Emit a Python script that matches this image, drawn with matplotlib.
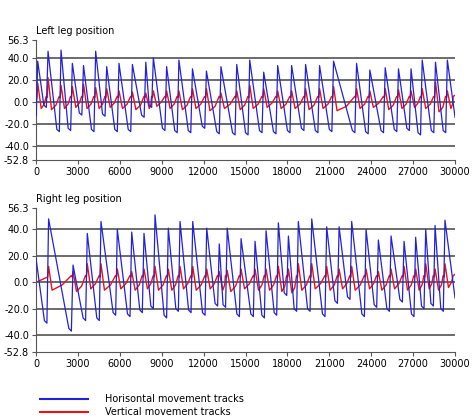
import matplotlib
matplotlib.use("Agg")
import matplotlib.pyplot as plt
import numpy as np

# ---- data ----
L_peak_t = [120, 860, 1790, 2600, 3400, 4270, 5060, 5940, 6900, 7860, 8400, 9350, 10230, 11200,
            12200, 13240, 14370, 15300, 16300, 17300, 18300, 19300, 20300, 21300, 22950, 23900,
            25000, 25950, 26850, 27650, 28600, 29450]
L_peak_v = [37, 46, 47, 35, 33, 46, 32, 35, 34, 36, 40, 32, 38, 30, 28, 32, 34, 38, 27, 33, 33,
            34, 33, 37, 35, 29, 31, 30, 30, 38, 36, 38]
L_trough_v = [-12, -5, -27, -26, -12, -27, -13, -27, -27, -14, -5, -26, -28, -28, -24, -29, -30,
              -30, -28, -29, -28, -26, -28, -27, -28, -29, -28, -27, -26, -30, -28, -28]
L_end_v = -14
L_red_spike = [17, 22, 15, 14, 16, 13, 12, 10, 9, 8, 10, 10, 10, 12, 12, 8, 10, 15, 12, 10, 10,
               12, 12, 14, 12, 10, 12, 11, 10, 12, 18, 10]
L_red_low = [-6, -7, -6, -5, -6, -6, -5, -6, -7, -6, -4, -6, -7, -6, -8, -6, -7, -6, -5, -6, -6,
             -7, -6, -8, -6, -5, -7, -6, -5, -6, -9, -6]

R_start_v = 18
R_peak_t = [900, 2650, 3670, 4650, 5820, 6850, 7730, 8520, 9470, 10310, 11220, 12220, 13120, 13690,
            14680, 15680, 16470, 17350, 18070, 18780, 19740, 20810, 21700, 22600, 23630, 24510,
            25420, 26350, 27180, 27900, 28570, 29280]
R_peak_v = [48, 13, 37, 46, 40, 38, 37, 51, 41, 46, 46, 41, 29, 41, 33, 31, 39, 45, 35, 46, 48,
            42, 42, 46, 40, 32, 35, 31, 34, 40, 43, 47]
R_trough_v = [-31, -37, -29, -29, -25, -26, -23, -20, -27, -22, -23, -25, -18, -19, -26, -26, -27,
              -25, -10, -22, -22, -26, -16, -13, -26, -19, -22, -15, -26, -20, -18, -22]
R_end_v = -12
R_red_spike = [12, 8, 14, 14, 10, 8, 10, 12, 10, 12, 12, 10, 8, 9, 10, 10, 10, 12, 10, 14, 14,
               12, 10, 12, 10, 8, 10, 12, 10, 14, 10, 14]
R_red_low = [-6, -7, -5, -6, -5, -6, -5, -6, -6, -5, -6, -5, -6, -7, -5, -6, -6, -7, -8, -6, -5,
             -6, -5, -6, -5, -6, -5, -6, -6, -5, -6, -4]

yticks = [56.3, 40.0, 20.0, 0.0, -20.0, -40.0, -52.8]
xticks = list(range(0, 30001, 3000))
BLUE = "#2222dd"
RED = "#ee1111"


def blue_track(start_v, peak_t, peak_v, trough_v, end_v):
    t, v = [0], [start_v]
    for pt, pv, tv in zip(peak_t, peak_v, trough_v):
        t0 = max(pt - 300, t[-1] + 10)
        t1 = max(pt - 120, t0 + 10)
        t += [t0, t1, pt]
        v += [tv + 2, tv, pv]
    t.append(30000)
    v.append(end_v)
    return t, v


def red_track(peak_t, spike, low):
    t, v = [0], [0]
    for i, (pt, sv, lv) in enumerate(zip(peak_t, spike, low)):
        nxt = peak_t[i + 1] if i + 1 < len(peak_t) else 30000
        t += [pt - 60, pt, pt + 250, (pt + nxt) / 2 + 100, nxt - 130]
        v += [4, sv, lv, lv + 4, 5]
    t.append(30000)
    v.append(6)
    return t, v


fig = plt.figure(figsize=(4.74, 4.2), dpi=100)
axL = fig.add_axes([0.076, 0.619, 0.884, 0.286])
axR = fig.add_axes([0.076, 0.162, 0.884, 0.343])

for ax, title, bt, rt in [
    (axL, "Left leg position",
     blue_track(L_trough_v[0], L_peak_t, L_peak_v, L_trough_v, L_end_v),
     red_track(L_peak_t, L_red_spike, L_red_low)),
    (axR, "Right leg position",
     blue_track(R_start_v, R_peak_t, R_peak_v, R_trough_v, R_end_v),
     red_track(R_peak_t, R_red_spike, R_red_low)),
]:
    for g in [40, 20, 0, -20, -40]:
        ax.axhline(g, color="#444444", lw=1.1, zorder=1)
    ax.plot(rt[0], rt[1], color=RED, lw=1.0, zorder=2)
    ax.plot(bt[0], bt[1], color=BLUE, lw=0.9, zorder=3)
    ax.set_xlim(0, 30000)
    ax.set_ylim(-52.8, 56.3)
    ax.set_yticks(yticks)
    ax.set_yticklabels([f"{y:.1f}" for y in yticks])
    ax.set_xticks(xticks)
    ax.tick_params(labelsize=7, length=3, color="#555555", pad=2)
    for s in ["top", "right"]:
        ax.spines[s].set_visible(False)
    for s in ["left", "bottom"]:
        ax.spines[s].set_color("#555555")
    ax.set_title(title, loc="left", fontsize=7, pad=4)

fig.lines.append(plt.Line2D([40 / 474, 88 / 474], [1 - 399 / 420] * 2, color=BLUE, lw=1.5,
                            transform=fig.transFigure))
fig.lines.append(plt.Line2D([40 / 474, 88 / 474], [1 - 412 / 420] * 2, color=RED, lw=1.5,
                            transform=fig.transFigure))
fig.text(105 / 474, 1 - 399 / 420, "Horisontal movement tracks", fontsize=7, va="center")
fig.text(105 / 474, 1 - 412 / 420, "Vertical movement tracks", fontsize=7, va="center")

fig.savefig("out.png", dpi=100)
